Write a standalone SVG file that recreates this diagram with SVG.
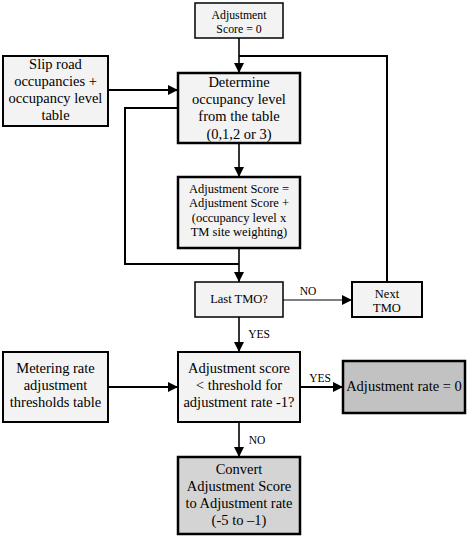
<svg xmlns="http://www.w3.org/2000/svg" width="474" height="536" viewBox="0 0 474 536">
<defs>
<style>
.box{fill:#f3f3f3;stroke:#000;stroke-width:2}
.thin{stroke-width:1.5}
.dark{fill:#c2c2c2}
.mid{fill:#d4d4d4}
text{font-family:'Liberation Serif','Times New Roman','DejaVu Serif',serif}
.t{font-size:14.5px;fill:#000;text-anchor:middle}
.s{font-size:11.8px}
.m{font-size:12.5px}
.lbl{font-size:11.5px;fill:#000;text-anchor:middle}
.c{fill:none;stroke:#000;stroke-width:2}
.cv{fill:none;stroke:#000;stroke-width:1.6}
.cn{fill:none;stroke:#000;stroke-width:1.2}
</style>
<marker id="ah" markerWidth="10" markerHeight="10" viewBox="0 0 10 10" refX="10" refY="5" orient="auto" markerUnits="userSpaceOnUse">
<path d="M0,0 L10,5 L0,10 z" fill="#000"/>
</marker>
</defs>
<g id="connectors">
<path class="cv" d="M239,38 V73" marker-end="url(#ah)"/>
<path class="c" d="M387,282 V56 H239"/>
<path class="c" d="M108,90 H178" marker-end="url(#ah)"/>
<path class="cv" d="M239,143 V177" marker-end="url(#ah)"/>
<path class="c" d="M178,108 H125 V264 H239"/>
<path class="cv" d="M239,248 V282" marker-end="url(#ah)"/>
<path class="cn" d="M283,300 H352" marker-end="url(#ah)"/>
<path class="cv" d="M239,317 V352" marker-end="url(#ah)"/>
<path class="c" d="M108,387 H178" marker-end="url(#ah)"/>
<path class="c" d="M300,387 H343" marker-end="url(#ah)"/>
<path class="cv" d="M239,422 V457" marker-end="url(#ah)"/>
<text class="lbl" x="308" y="295">NO</text>
<text class="lbl" x="259" y="338">YES</text>
<text class="lbl" x="320" y="382">YES</text>
<text class="lbl" x="257" y="444">NO</text>
</g>
<g id="start">
<rect class="box thin" x="195" y="3" width="88" height="35"/>
<text class="t s" x="239" y="19">Adjustment</text>
<text class="t s" x="239" y="33">Score = 0</text>
</g>
<g id="sliproad">
<rect class="box" x="3" y="56" width="105" height="70"/>
<text class="t" x="55.5" y="69">Slip road</text>
<text class="t" x="55.5" y="86">occupancies +</text>
<text class="t" x="55.5" y="103">occupancy level</text>
<text class="t" x="55.5" y="120">table</text>
</g>
<g id="determine">
<rect class="box" x="178" y="73" width="122" height="70" style="stroke-width:2.5"/>
<text class="t" x="239" y="87">Determine</text>
<text class="t" x="239" y="104">occupancy level</text>
<text class="t" x="239" y="121">from the table</text>
<text class="t" x="239" y="139">(0,1,2 or 3)</text>
</g>
<g id="score">
<rect class="box" x="178" y="177" width="122" height="71" style="stroke-width:2.5"/>
<text class="t m" x="239" y="193">Adjustment Score =</text>
<text class="t m" x="239" y="207">Adjustment Score +</text>
<text class="t m" x="239" y="222">(occupancy level x</text>
<text class="t m" x="239" y="236">TM site weighting)</text>
</g>
<g id="lasttmo">
<rect class="box thin" x="195" y="282" width="88" height="35"/>
<text class="t m" x="239" y="303">Last TMO?</text>
</g>
<g id="nexttmo">
<rect class="box" x="352" y="282" width="70" height="35"/>
<text class="t m" x="387" y="298">Next</text>
<text class="t m" x="387" y="312">TMO</text>
</g>
<g id="metering">
<rect class="box" x="3" y="352" width="105" height="70"/>
<text class="t" x="55.5" y="373">Metering rate</text>
<text class="t" x="55.5" y="390">adjustment</text>
<text class="t" x="55.5" y="407">thresholds table</text>
</g>
<g id="decision">
<rect class="box" x="178" y="352" width="122" height="70"/>
<text class="t" x="239" y="373">Adjustment score</text>
<text class="t" x="239" y="390">&lt; threshold for</text>
<text class="t" x="239" y="407">adjustment rate -1?</text>
</g>
<g id="rate0">
<rect class="box dark" x="343" y="361" width="122" height="52" style="stroke-width:2.5"/>
<text class="t" x="404" y="391">Adjustment rate = 0</text>
</g>
<g id="convert">
<rect class="box mid" x="178" y="457" width="122" height="77" style="stroke-width:2.5"/>
<text class="t" x="239" y="474">Convert</text>
<text class="t" x="239" y="491">Adjustment Score</text>
<text class="t" x="239" y="508">to Adjustment rate</text>
<text class="t" x="239" y="525">(-5 to –1)</text>
</g>
</svg>
